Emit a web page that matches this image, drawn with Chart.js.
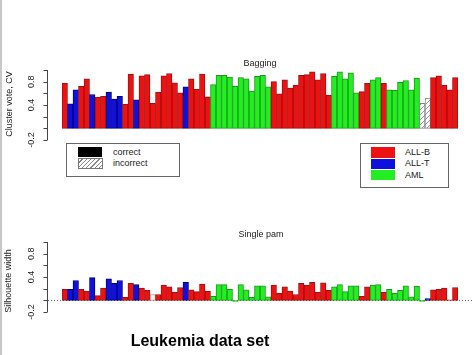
<!DOCTYPE html>
<html><head><meta charset="utf-8">
<script src="https://cdn.jsdelivr.net/npm/chart.js@4"></script>
<style>
body{margin:0;background:#fff;}
#wrap{position:relative;width:474px;height:355px;overflow:hidden;font-family:"Liberation Sans",Arial,sans-serif;color:#222;background:#fff;}
#edge{position:absolute;left:0;top:0;width:2px;height:355px;background:#c8c8c8;}
.t{position:absolute;font-size:9px;white-space:nowrap;line-height:1;}
.c{transform:translate(-50%,-50%);}
.r{transform:translate(-50%,-50%) rotate(-90deg);}
canvas{position:absolute;left:0;}
.box{position:absolute;border:1px solid #666;background:#fff;}
.sw{position:absolute;}
</style></head><body>
<div id="wrap">
<div id="edge"></div>
<canvas id="top" width="474" height="200" style="top:0"></canvas>
<canvas id="bot" width="474" height="155" style="top:200px"></canvas>

<div class="t c" style="left:260px;top:63px">Bagging</div>
<div class="t r" style="left:9px;top:104px">Cluster vote, CV</div>

<div class="box" style="left:66px;top:143px;width:112px;height:32px"></div>
<div class="sw" style="left:78px;top:147px;width:24px;height:10px;background:#000"></div>
<div class="sw" style="left:78px;top:158px;width:23px;height:9px;border:1px solid #777;background:repeating-linear-gradient(135deg,#fff 0 2px,#888 2px 3px)"></div>
<div class="t" style="left:113px;top:148px">correct</div>
<div class="t" style="left:113px;top:159px">incorrect</div>

<div class="box" style="left:360px;top:143px;width:87px;height:43px"></div>
<div class="sw" style="left:371px;top:147px;width:24px;height:11px;background:#ee1111"></div>
<div class="sw" style="left:371px;top:159px;width:24px;height:10px;background:#1010dd"></div>
<div class="sw" style="left:371px;top:170px;width:24px;height:10px;background:#22ee22"></div>
<div class="t" style="left:405px;top:148px">ALL-B</div>
<div class="t" style="left:405px;top:159px">ALL-T</div>
<div class="t" style="left:405px;top:171px">AML</div>

<div class="t c" style="left:261px;top:234px">Single pam</div>
<div class="t r" style="left:8px;top:281px">Silhouette width</div>

<div class="t c" style="left:200px;top:341px;font-size:16px;font-weight:bold;color:#000">Leukemia data set</div>
</div>
<script>
// ---- data ----
const sampleIds = Array.from({length: 72}, (_, i) => String(i + 1));
const groups = ['B','T','T','B','B','T','B','B','T','T',
  'T','B','B','T','B','B','B','B','B','B',
  'B','B','T','B','B','B','B','M','M','M',
  'M','M','M','M','M','M','M','M','B','B',
  'B','B','B','B','B','B','B','B','B','M',
  'M','M','M','M','B','B','M','M','B','M',
  'M','M','M','M','M','M','T','B','B','B',
  'B','B'];
const clusterVote = [0.77,0.42,0.66,0.72,0.85,0.58,0.53,0.55,0.62,0.50,
  0.55,0.41,0.93,0.49,0.90,0.92,0.43,0.62,0.90,0.94,
  0.78,0.61,0.71,0.85,0.67,0.93,0.54,0.75,0.91,0.91,
  0.88,0.72,0.87,0.85,0.64,0.89,0.91,0.71,0.80,0.59,
  0.83,0.69,0.74,0.91,0.92,0.97,0.83,0.94,0.57,0.89,
  0.97,0.85,0.95,0.61,0.63,0.77,0.83,0.87,0.77,0.66,
  0.65,0.79,0.82,0.66,0.86,0.43,0.52,0.87,0.90,0.74,
  0.66,0.87];
const incorrectSamples = [66, 67];
const silhouette = [0.19,0.19,0.34,0.19,0.16,0.39,0.08,0.21,0.37,0.29,
  0.34,0.05,0.29,0.27,0.21,0.17,0.10,0.10,0.26,0.23,
  0.14,0.22,0.31,0.18,0.15,0.28,0.16,0.07,0.27,0.27,
  0.19,-0.02,0.27,0.18,0.05,0.25,0.25,0.06,0.26,0.12,
  0.23,0.16,0.10,0.29,0.26,0.31,0.14,0.30,0.17,0.23,
  0.27,0.15,0.25,0.25,0.07,0.23,0.26,0.27,0.14,0.19,
  0.12,0.17,0.25,0.06,0.24,-0.02,0.03,0.18,0.19,0.21,
  0.01,0.22];
const yTicks = [-0.2, 0, 0.2, 0.4, 0.6, 0.8, 1.0];
const yTickLabels = ['-0.2', '', '', '0.4', '', '0.8', ''];

// ---- styles ----
const fillOf = {B: '#ee1111', T: '#1010dd', M: '#22ee22'};
const edgeOf = {B: '#a01010', T: '#00007a', M: '#179a17'};
const pamBlank = 16;

function hatch() {
  const c = document.createElement('canvas');
  c.width = 5; c.height = 5;
  const g = c.getContext('2d');
  g.fillStyle = '#fff'; g.fillRect(0, 0, 5, 5);
  g.strokeStyle = '#999'; g.lineWidth = 1;
  g.beginPath(); g.moveTo(-1, 6); g.lineTo(6, -1); g.stroke();
  return g.createPattern(c, 'repeat');
}
const hatchPat = hatch();

const rAxis = {
  id: 'rAxis',
  beforeDatasetsDraw(chart, args, opts) {
    if (!opts.zeroLine) return;
    const ctx = chart.ctx, y = chart.scales.y;
    const py = Math.round(y.getPixelForValue(0)) + 0.5;
    ctx.save();
    ctx.strokeStyle = '#666'; ctx.lineWidth = 1; ctx.setLineDash([1, 2]);
    ctx.beginPath(); ctx.moveTo(45, py); ctx.lineTo(474, py); ctx.stroke();
    ctx.restore();
  },
  afterDraw(chart) {
    const ctx = chart.ctx, y = chart.scales.y;
    const ax = chart.chartArea.left - 15 + 0.5;
    ctx.save();
    ctx.strokeStyle = '#444'; ctx.lineWidth = 1;
    ctx.beginPath();
    ctx.moveTo(ax, y.getPixelForValue(yTicks[yTicks.length - 1]));
    ctx.lineTo(ax, y.getPixelForValue(yTicks[0]));
    yTicks.forEach(v => {
      const p = Math.round(y.getPixelForValue(v)) + 0.5;
      ctx.moveTo(ax, p); ctx.lineTo(ax - 4, p);
    });
    ctx.stroke();
    ctx.fillStyle = '#222';
    ctx.font = '9px "Liberation Sans", Arial, sans-serif';
    ctx.textAlign = 'center'; ctx.textBaseline = 'middle';
    yTicks.forEach((v, i) => {
      if (!yTickLabels[i]) return;
      const p = y.getPixelForValue(v);
      ctx.save(); ctx.translate(ax - 16, p); ctx.rotate(-Math.PI / 2);
      ctx.fillText(yTickLabels[i], 0, 0); ctx.restore();
    });
    ctx.restore();
  }
};

function makeChart(id, values, bg, border, pad, zeroLine) {
  return new Chart(document.getElementById(id), {
    type: 'bar',
    data: {labels: sampleIds, datasets: [{data: values, backgroundColor: bg, borderColor: border,
      borderWidth: 1, barPercentage: 1, categoryPercentage: 1, borderSkipped: false}]},
    options: {
      responsive: false, animation: false,
      layout: {padding: pad},
      plugins: {legend: {display: false}, tooltip: {enabled: false}, rAxis: {zeroLine: zeroLine}},
      scales: {
        x: {display: false, offset: true},
        y: {display: false, min: -0.2, max: 1.0}
      }
    },
    plugins: [rAxis]
  });
}

const topBg = groups.map((g, i) => incorrectSamples.includes(i + 1) ? hatchPat : fillOf[g]);
const topBd = groups.map((g, i) => incorrectSamples.includes(i + 1) ? '#888' : edgeOf[g]);
makeChart('top', clusterVote, topBg, topBd, {left: 62, right: 16, top: 70, bottom: 60}, false);

const botBg = groups.map((g, i) => i === pamBlank ? '#f4f4f4' : fillOf[g]);
const botBd = groups.map((g, i) => i === pamBlank ? '#999' : edgeOf[g]);
makeChart('bot', silhouette, botBg, botBd, {left: 62, right: 16, top: 42, bottom: 43}, true);
</script>
</body></html>
